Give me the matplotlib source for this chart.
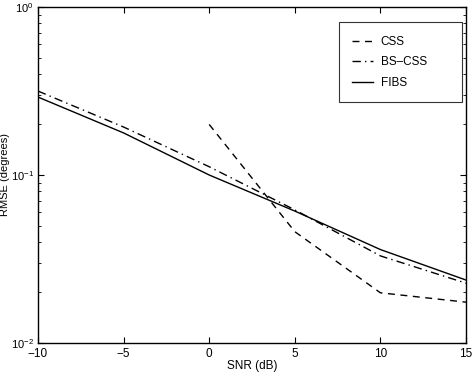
import matplotlib
matplotlib.use('Agg')
import numpy as np
import matplotlib.pyplot as plt

plt.rcParams['font.family'] = ['Liberation Sans', 'DejaVu Sans']
plt.rcParams['mathtext.fontset'] = 'custom'
plt.rcParams['mathtext.rm'] = 'Liberation Sans'

snr = [-10, -5, 0, 5, 10, 15]
snr_css = [0, 5, 10, 15]
css = [0.20, 0.046, 0.0199, 0.0175]
bs_css = [0.316, 0.193, 0.112, 0.062, 0.033, 0.0227]
fibs = [0.291, 0.178, 0.100, 0.061, 0.036, 0.0237]

fig = plt.figure(figsize=(4.74, 3.72), dpi=100)
ax = fig.add_axes([38 / 474, 1 - 343 / 372, 428 / 474, 336 / 372])

ax.plot(snr_css, css, color='black', linestyle=(0, (5, 4)), linewidth=1.0, label='CSS')
ax.plot(snr, bs_css, color='black', linestyle=(0, (6, 3, 1, 3)), linewidth=1.0, label='BS\u2013CSS')
ax.plot(snr, fibs, color='black', linestyle='-', linewidth=1.0, label='FIBS')

ax.set_yscale('log')
ax.set_xlim(-10, 15)
ax.set_ylim(1e-2, 1)
ax.set_xticks([-10, -5, 0, 5, 10, 15])
ax.set_xticklabels(['\u221210', '\u22125', '0', '5', '10', '15'])
ax.set_yticks([1e-2, 1e-1, 1])
ax.set_yticklabels([r'$10^{-2}$', r'$10^{-1}$', r'$10^{0}$'])
ax.tick_params(which='both', direction='in', top=True, right=True, labelsize=8.5)
ax.tick_params(axis='x', pad=3.5)
ax.tick_params(axis='y', labelsize=8, pad=3)
ax.tick_params(which='major', length=4)
ax.tick_params(which='minor', length=2.5)
for s in ax.spines.values():
    s.set_linewidth(1.0)

ax.set_xlabel('SNR (dB)', fontsize=8.5, labelpad=0)
ax.set_ylabel('RMSE (degrees)', fontsize=8)
ax.yaxis.set_label_coords(-0.066, 0.5)

leg = ax.legend(loc='upper left', bbox_to_anchor=(0.703, 0.5, 0.287, 0.455), mode='expand',
                borderaxespad=0, frameon=True, fancybox=False,
                edgecolor='black', fontsize=8.5, handlelength=1.7, borderpad=1.15,
                labelspacing=0.72, handletextpad=0.7)
leg.get_frame().set_linewidth(0.8)

fig.savefig('out.png', dpi=100)
